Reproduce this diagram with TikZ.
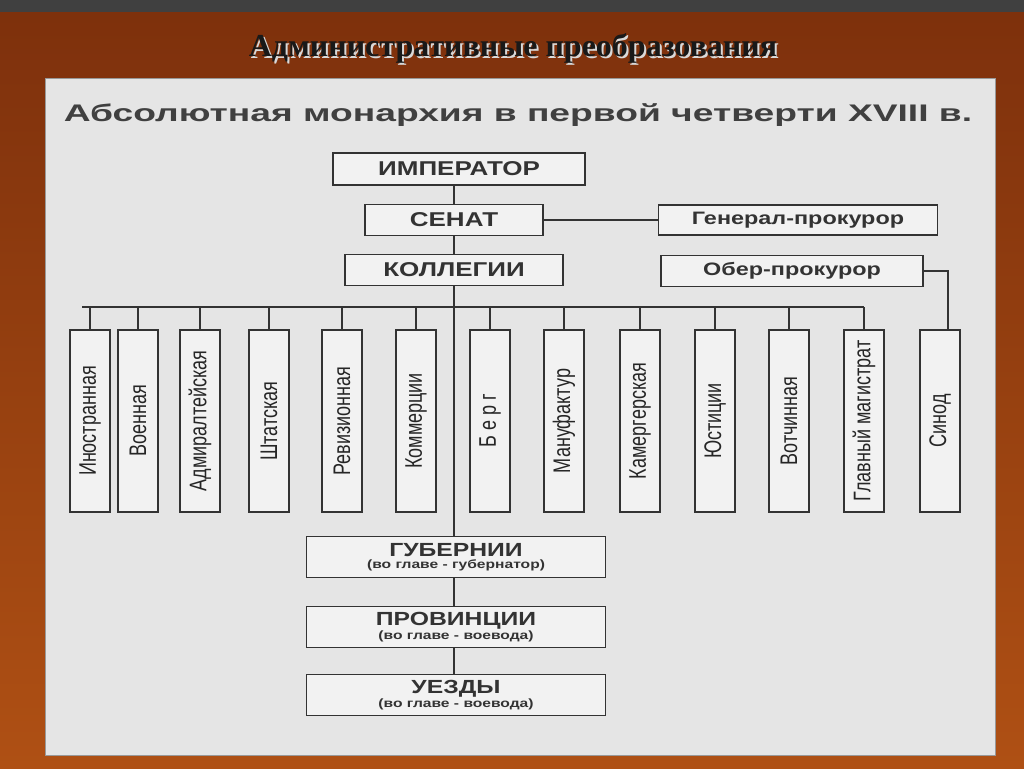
\documentclass[tikz,border=0pt]{standalone}
\usepackage{fontspec}
\setmainfont{Liberation Serif}
\newfontfamily\sansf{Liberation Sans}
\newfontfamily\widef[FakeStretch=1.3]{Liberation Sans}
\newfontfamily\widerf[FakeStretch=1.55]{Liberation Sans}
\newfontfamily\narrowf[FakeStretch=0.75]{Liberation Sans}
\begin{document}
\begin{tikzpicture}[x=1pt,y=-1pt,
 ln/.style={draw=black!80,line width=1.4pt},
 hbox/.style={draw=black!80,line width=1.8pt,fill=black!5,font=\widef\bfseries,text=black!80},
 vbox/.style={draw=black!80,line width=1.8pt,fill=black!5,minimum width=40pt,minimum height=182pt,inner sep=0pt}]
\definecolor{bgA}{RGB}{175,80,20}\definecolor{bgB}{RGB}{125,48,12}
\useasboundingbox (0,0) rectangle (1024,768);
\shade[top color=bgB,bottom color=bgA] (0,0) rectangle (1024,768);
\fill[black!75] (0,0) rectangle (1024,12);
\fill[black!10,draw=black!40] (45,78) rectangle (995,755);
\node[font=\bfseries\fontsize{32}{34}\selectfont,text=white!85!black] (tsh) at (515,50) {Административные преобразования};
\node[font=\bfseries\fontsize{32}{34}\selectfont,text=black!90] (title) at (513,48) {Административные преобразования};
\node[font=\widerf\bfseries\fontsize{24}{26}\selectfont,text=black!75] (head) at (518,115) {Абсолютная монархия в первой четверти XVIII в.};
\node[hbox,minimum width=252pt,minimum height=32pt,font=\widef\bfseries\fontsize{20}{22}\selectfont] (imp) at (459,169) {ИМПЕРАТОР};
\node[hbox,minimum width=178pt,minimum height=31pt,font=\widef\bfseries\fontsize{20}{22}\selectfont] (sen) at (454,220) {СЕНАТ};
\node[hbox,minimum width=279pt,minimum height=30pt,font=\widef\bfseries\fontsize{18}{20}\selectfont] (gen) at (798,220) {Генерал-прокурор};
\node[hbox,minimum width=218pt,minimum height=31pt,font=\widef\bfseries\fontsize{20}{22}\selectfont] (kol) at (454,270) {КОЛЛЕГИИ};
\node[hbox,minimum width=262pt,minimum height=31pt,font=\widef\bfseries\fontsize{18}{20}\selectfont] (ober) at (792,271) {Обер-прокурор};
\foreach \n/\x/\t in {a/90/Иностранная,b/138/Военная,c/200/Адмиралтейская,d/269/Штатская,e/342/Ревизионная,f/416/Коммерции,g/490/{Б е р г},h/564/Мануфактур,i/640/Камергерская,j/715/Юстиции,k/789/Вотчинная,l/864/Главный магистрат,m/940/Синод}{
 \node[vbox] (\n) at (\x,421) {};
 \node[rotate=90,font=\narrowf\fontsize{24}{26}\selectfont,text=black!85] (t\n) at (\n) {\t};
}
\node[hbox,minimum width=299pt,minimum height=41pt,align=center,inner sep=1pt] (gub) at (456,557) {\fontsize{19}{19}\selectfont ГУБЕРНИИ\\\fontsize{12}{13}\selectfont (во главе - губернатор)};
\node[hbox,minimum width=299pt,minimum height=41pt,align=center,inner sep=1pt] (prov) at (456,627) {\fontsize{19}{19}\selectfont ПРОВИНЦИИ\\\fontsize{12}{13}\selectfont (во главе - воевода)};
\node[hbox,minimum width=299pt,minimum height=41pt,align=center,inner sep=1pt] (uez) at (456,695) {\fontsize{19}{19}\selectfont УЕЗДЫ\\\fontsize{12}{13}\selectfont (во главе - воевода)};
\coordinate (bl) at (82,307); \coordinate (br) at (864,307);
\draw[ln] (bl) -- (br);
\foreach \n in {a,b,c,d,e,f,g,h,i,j,k,l}{\draw[ln] (\n.north) -- (\n.north|-bl);}
\draw[ln] (imp.south-|sen) -- (sen.north);
\draw[ln] (sen) -- (kol);
\draw[ln] (kol.south) -- (gub.north-|kol);
\draw[ln] (gub.south-|kol) -- (prov.north-|kol);
\draw[ln] (prov.south-|kol) -- (uez.north-|kol);
\draw[ln] (sen.east) -- (gen.west);
\coordinate (oc) at (948,271);
\draw[ln] (ober.east) -- (oc) -- (oc|-m.north);
\end{tikzpicture}
\end{document}
